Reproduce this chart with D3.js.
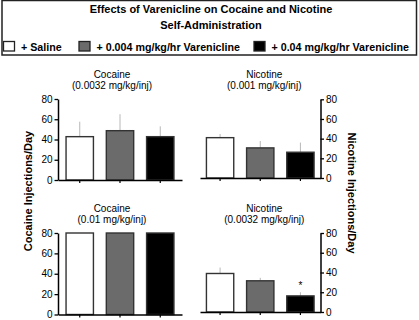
<!DOCTYPE html>
<html>
<head>
<meta charset="utf-8">
<script src="https://cdn.jsdelivr.net/npm/d3@7"></script>
<style>
  body { margin: 0; background: #fff; }
  text { font-family: "Liberation Sans", Arial, sans-serif; fill: #000; }
</style>
</head>
<body>
<script>
// data
const groups = ["+ Saline", "+ 0.004 mg/kg/hr Varenicline", "+ 0.04 mg/kg/hr Varenicline"];
const drugs = ["Cocaine", "Nicotine", "Cocaine", "Nicotine"];
const doses = ["(0.0032 mg/kg/inj)", "(0.001 mg/kg/inj)", "(0.01 mg/kg/inj)", "(0.0032 mg/kg/inj)"];
const means = [[42.8, 48.7, 42.8], [41, 30.6, 26.2], [80, 80, 80], [39, 31.6, 16.3]];
const errs = [[14.8, 16.3, 10.2], [3.7, 7, 9.8], [0, 0, 0], [6, 3, 3.7]];
const stars = [[], [], [], [2]];
const yTicks = [0, 20, 40, 60, 80];

const fills = ["#ffffff", "#6b6b6b", "#000000"];

const svg = d3.select("body").append("svg")
    .attr("width", 419)
    .attr("height", 320);

// title box
svg.append("rect")
    .attr("x", 2).attr("y", 0.5)
    .attr("width", 414.5).attr("height", 54.5)
    .attr("fill", "none").attr("stroke", "#222").attr("stroke-width", 1.5);

svg.append("text").attr("x", 211).attr("y", 13)
    .attr("text-anchor", "middle").style("font-weight", "bold").style("font-size", "11px")
    .text("Effects of Varenicline on Cocaine and Nicotine");
svg.append("text").attr("x", 211).attr("y", 29)
    .attr("text-anchor", "middle").style("font-weight", "bold").style("font-size", "11px")
    .text("Self-Administration");

// legend
const legX = [3.5, 79, 254];
groups.forEach(function(g, i) {
    svg.append("rect")
        .attr("x", legX[i]).attr("y", 41.5)
        .attr("width", 11).attr("height", 9.5)
        .attr("fill", fills[i]).attr("stroke", "#222").attr("stroke-width", 1.3);
    svg.append("text")
        .attr("x", legX[i] + 17.5).attr("y", 50.5)
        .style("font-weight", "bold").style("font-size", "10.7px")
        .text(g);
});

// panel layout
const panels = [
    {x0: 58, x1: 182, y0: 180, y1: 99, side: "left", pi: 0.2},
    {x0: 200, x1: 320.5, y0: 178, y1: 99.3, side: "right", pi: 0.16},
    {x0: 58, x1: 182, y0: 314.5, y1: 233, side: "left", pi: 0.2},
    {x0: 200, x1: 320.5, y0: 312, y1: 233, side: "right", pi: 0.16}
];

panels.forEach(function(p, k) {
    const g = svg.append("g");
    const x = d3.scaleBand().domain([0, 1, 2]).range([p.x0, p.x1])
        .paddingInner(0.32).paddingOuter(p.pi);
    const y = d3.scaleLinear().domain([0, 80]).range([p.y0, p.y1]);

    // error bars (upward only)
    g.selectAll(".err").data(means[k]).enter().append("line")
        .attr("x1", (d, i) => x(i) + x.bandwidth() / 2)
        .attr("x2", (d, i) => x(i) + x.bandwidth() / 2)
        .attr("y1", d => y(d))
        .attr("y2", (d, i) => y(d + errs[k][i]))
        .attr("stroke", "#b8b8b8").attr("stroke-width", 1);

    g.selectAll(".bar").data(means[k]).enter().append("rect")
        .attr("x", (d, i) => x(i))
        .attr("y", d => y(d))
        .attr("width", x.bandwidth())
        .attr("height", d => p.y0 - y(d))
        .attr("fill", (d, i) => fills[i])
        .attr("stroke", "#333").attr("stroke-width", 1.4);

    // y axis
    const axis = (p.side === "left" ? d3.axisLeft(y) : d3.axisRight(y))
        .tickValues(yTicks).tickSize(3.5).tickPadding(2).tickSizeOuter(0);
    const ax = g.append("g")
        .attr("transform", "translate(" + (p.side === "left" ? p.x0 : p.x1) + ",0)")
        .call(axis);
    ax.select(".domain").attr("stroke", "#000").attr("stroke-width", 1.5);
    ax.selectAll(".tick line").attr("stroke", "#000").attr("stroke-width", 1.3);
    ax.selectAll(".tick text").style("font-size", "10px").style("font-family", "Liberation Sans, Arial, sans-serif");

    // x axis baseline with ticks at bar centres
    const xa = g.append("g")
        .attr("transform", "translate(0," + p.y0 + ")")
        .call(d3.axisBottom(x).tickSize(3).tickSizeOuter(0).tickFormat(""));
    xa.select(".domain").attr("stroke", "#000").attr("stroke-width", 1.5);
    xa.selectAll(".tick line").attr("stroke", "#000").attr("stroke-width", 1.2);

    // panel titles
    const cx = (p.x0 + p.x1) / 2 + (p.side === "left" ? -8 : 4);
    g.append("text").attr("x", cx).attr("y", p.y1 - 21)
        .attr("text-anchor", "middle").style("font-size", "10px").text(drugs[k]);
    g.append("text").attr("x", cx).attr("y", p.y1 - 10)
        .attr("text-anchor", "middle").style("font-size", "10px").text(doses[k]);

    stars[k].forEach(function(i) {
        g.append("text")
            .attr("x", x(i) + x.bandwidth() / 2)
            .attr("y", y(means[k][i] + errs[k][i]) - 3)
            .attr("text-anchor", "middle").style("font-size", "10px").text("*");
    });
});

// axis titles
svg.append("text")
    .attr("transform", "translate(32,191) rotate(-90)")
    .attr("text-anchor", "middle").style("font-weight", "bold").style("font-size", "11px")
    .text("Cocaine Injections/Day");
svg.append("text")
    .attr("transform", "translate(348,193) rotate(90)")
    .attr("text-anchor", "middle").style("font-weight", "bold").style("font-size", "11px")
    .text("Nicotine Injections/Day");
</script>
</body>
</html>
